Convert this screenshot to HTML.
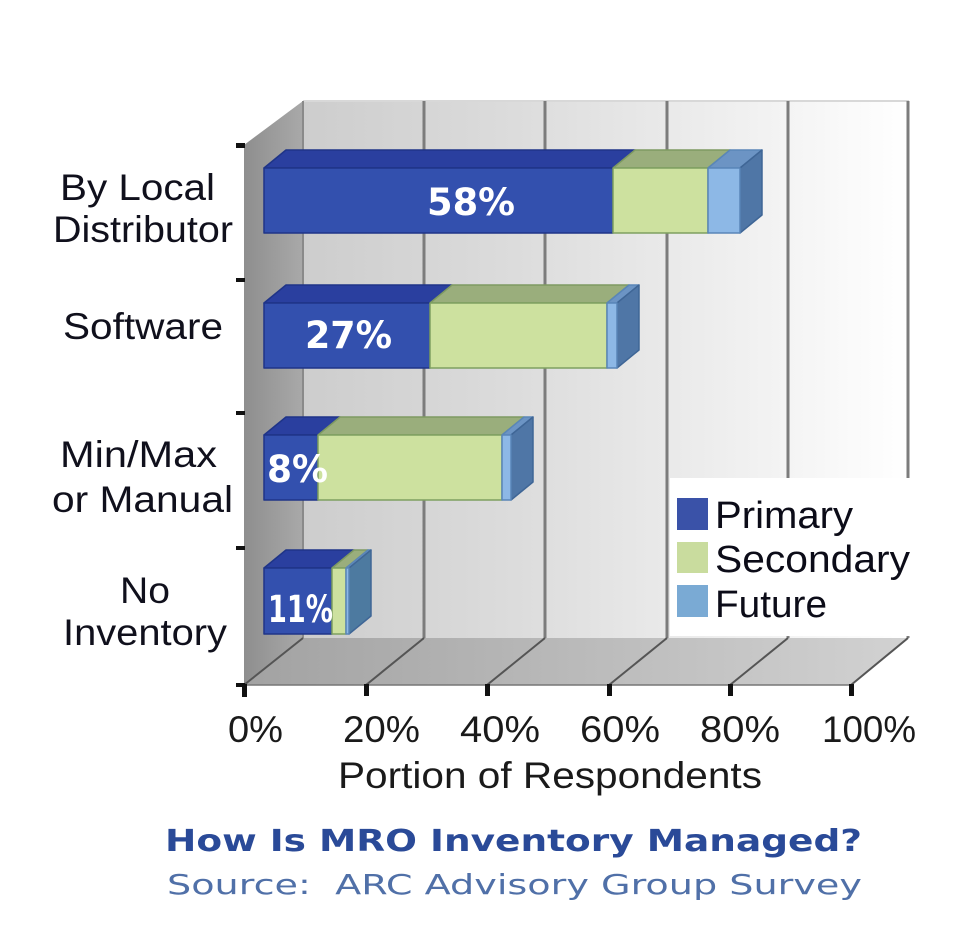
<!DOCTYPE html>
<html>
<head>
<meta charset="utf-8">
<style>
  html,body{margin:0;padding:0;background:#fff;}
  svg{display:block;}
  .cat{font-family:"Liberation Sans",Arial,sans-serif;font-size:37px;fill:#10101c;}
  .tick{font-family:"Liberation Sans",Arial,sans-serif;font-size:37px;fill:#1a1a1a;}
  .bl{font-family:"DejaVu Sans","Liberation Sans",sans-serif;font-weight:bold;font-size:37px;fill:#fff;}
  .lg{font-family:"Liberation Sans",Arial,sans-serif;font-size:38px;fill:#0c0c18;}
</style>
</head>
<body>
<svg width="980" height="937" viewBox="0 0 980 937" xmlns="http://www.w3.org/2000/svg">
  <defs>
    <linearGradient id="wall" x1="303" y1="0" x2="910" y2="0" gradientUnits="userSpaceOnUse">
      <stop offset="0" stop-color="#cdcdcd"/>
      <stop offset="0.35" stop-color="#dcdcdc"/>
      <stop offset="0.65" stop-color="#ececec"/>
      <stop offset="1" stop-color="#ffffff"/>
    </linearGradient>
    <linearGradient id="side" x1="244" y1="0" x2="303" y2="0" gradientUnits="userSpaceOnUse">
      <stop offset="0" stop-color="#8e8e8e"/>
      <stop offset="1" stop-color="#a9a9a9"/>
    </linearGradient>
    <linearGradient id="floor" x1="244" y1="0" x2="910" y2="0" gradientUnits="userSpaceOnUse">
      <stop offset="0" stop-color="#a2a2a2"/>
      <stop offset="1" stop-color="#d2d2d2"/>
    </linearGradient>
  </defs>

  <rect x="0" y="0" width="980" height="937" fill="#fff"/>

  <!-- back wall -->
  <polygon points="303,101 909,101 909,638 303,638" fill="url(#wall)"/>
  <line x1="303" y1="101" x2="909" y2="101" stroke="#d8d8d8" stroke-width="2"/>
  <!-- side wall -->
  <polygon points="244,145 303,101 303,638 244,685" fill="url(#side)"/>
  <!-- floor -->
  <polygon points="244,685 851,685 909,638 303,638" fill="url(#floor)"/>

  <!-- back gridlines -->
  <g stroke="#7c7c7c" stroke-width="3">
    <line x1="303" y1="101" x2="303" y2="638" stroke="#8a8a8a" stroke-width="2"/>
    <line x1="424" y1="101" x2="424" y2="638"/>
    <line x1="545" y1="101" x2="545" y2="638"/>
    <line x1="667" y1="101" x2="667" y2="638"/>
    <line x1="788" y1="101" x2="788" y2="638"/>
    <line x1="908" y1="101" x2="908" y2="638"/>
  </g>

  <!-- floor lines -->
  <g stroke="#555" stroke-width="2">
    <line x1="244" y1="685" x2="303" y2="638"/>
    <line x1="366" y1="685" x2="424" y2="638"/>
    <line x1="487" y1="685" x2="545" y2="638"/>
    <line x1="609" y1="685" x2="667" y2="638"/>
    <line x1="730" y1="685" x2="788" y2="638"/>
    <line x1="851" y1="685" x2="908" y2="638"/>
  </g>
  <line x1="244" y1="685" x2="851" y2="685" stroke="#777" stroke-width="1.5"/>

  <!-- legend box -->
  <rect x="670" y="478" width="246" height="158" fill="#ffffff"/>
  <rect x="677" y="498" width="31" height="32" fill="#3a52a8"/>
  <rect x="677" y="542" width="31" height="31" fill="#c9dc9e"/>
  <rect x="677" y="585" width="31" height="32" fill="#7aaad4"/>
  <text class="lg" x="715" y="528" textLength="138" lengthAdjust="spacingAndGlyphs">Primary</text>
  <text class="lg" x="715" y="572" textLength="195" lengthAdjust="spacingAndGlyphs">Secondary</text>
  <text class="lg" x="715" y="617" textLength="112" lengthAdjust="spacingAndGlyphs">Future</text>

  <!-- Bar 1: By Local Distributor -->
  <g stroke-width="1.5" stroke-linejoin="round">
    <polygon points="264,168 286,150 635,150 613,168" fill="#2a3f9f" stroke="#1f3488"/>
    <polygon points="613,168 635,150 730,150 708,168" fill="#9aae7c" stroke="#7e9a62"/>
    <polygon points="708,168 730,150 762,150 740,168" fill="#6c94c4" stroke="#5a86b8"/>
    <polygon points="740,168 762,150 762,215 740,233" fill="#4f76a6" stroke="#3f6696"/>
    <rect x="264" y="168" width="349" height="65" fill="#3350ae" stroke="#1f3488"/>
    <rect x="613" y="168" width="95" height="65" fill="#cde19f" stroke="#7ea060"/>
    <rect x="708" y="168" width="32" height="65" fill="#8db8e6" stroke="#5a86b8"/>
  </g>
  <text class="bl" x="427" y="215" textLength="88" lengthAdjust="spacingAndGlyphs">58%</text>

  <!-- Bar 2: Software -->
  <g stroke-width="1.5" stroke-linejoin="round">
    <polygon points="264,303 286,285 452,285 430,303" fill="#2a3f9f" stroke="#1f3488"/>
    <polygon points="430,303 452,285 629,285 607,303" fill="#9aae7c" stroke="#7e9a62"/>
    <polygon points="607,303 629,285 639,285 617,303" fill="#6c94c4" stroke="#5a86b8"/>
    <polygon points="617,303 639,285 639,350 617,368" fill="#4f76a6" stroke="#3f6696"/>
    <rect x="264" y="303" width="166" height="65" fill="#3350ae" stroke="#1f3488"/>
    <rect x="430" y="303" width="177" height="65" fill="#cde19f" stroke="#7ea060"/>
    <rect x="607" y="303" width="10" height="65" fill="#8db8e6" stroke="#5a86b8"/>
  </g>
  <text class="bl" x="305" y="348" textLength="87" lengthAdjust="spacingAndGlyphs">27%</text>

  <!-- Bar 3: Min/Max -->
  <g stroke-width="1.5" stroke-linejoin="round">
    <polygon points="264,435 286,417 340,417 318,435" fill="#2a3f9f" stroke="#1f3488"/>
    <polygon points="318,435 340,417 524,417 502,435" fill="#9aae7c" stroke="#7e9a62"/>
    <polygon points="502,435 524,417 533,417 511,435" fill="#6c94c4" stroke="#5a86b8"/>
    <polygon points="511,435 533,417 533,482 511,500" fill="#4f76a6" stroke="#3f6696"/>
    <rect x="264" y="435" width="54" height="65" fill="#3350ae" stroke="#1f3488"/>
    <rect x="318" y="435" width="184" height="65" fill="#cde19f" stroke="#7ea060"/>
    <rect x="502" y="435" width="9" height="65" fill="#8db8e6" stroke="#5a86b8"/>
  </g>
  <text class="bl" x="267" y="482" textLength="61" lengthAdjust="spacingAndGlyphs">8%</text>

  <!-- Bar 4: No Inventory -->
  <g stroke-width="1.5" stroke-linejoin="round">
    <polygon points="264,568 286,550 354,550 332,568" fill="#2a3f9f" stroke="#1f3488"/>
    <polygon points="332,568 354,550 368,550 346,568" fill="#9aae7c" stroke="#7e9a62"/>
    <polygon points="346,568 368,550 371,550 349,568" fill="#6c94c4" stroke="#5a86b8"/>
    <polygon points="349,568 371,550 371,616 349,634" fill="#4d7aa0" stroke="#3f6696"/>
    <rect x="264" y="568" width="68" height="66" fill="#3350ae" stroke="#1f3488"/>
    <rect x="332" y="568" width="14" height="66" fill="#cde19f" stroke="#7ea060"/>
    <rect x="346" y="568" width="3" height="66" fill="#8db8e6" stroke="#5a86b8"/>
  </g>
  <text class="bl" x="268" y="622" textLength="65" lengthAdjust="spacingAndGlyphs">11%</text>

  <!-- left axis ticks -->
  <g fill="#111">
    <rect x="236" y="143" width="9" height="5"/>
    <rect x="236" y="278" width="9" height="4"/>
    <rect x="236" y="411" width="9" height="4"/>
    <rect x="236" y="546" width="9" height="4"/>
    <rect x="236" y="683" width="9" height="4"/>
  </g>
  <!-- bottom ticks -->
  <g fill="#111">
    <rect x="242" y="684" width="5" height="13"/>
    <rect x="364" y="684" width="5" height="12"/>
    <rect x="485" y="684" width="5" height="12"/>
    <rect x="607" y="684" width="5" height="12"/>
    <rect x="728" y="684" width="5" height="12"/>
    <rect x="849" y="684" width="5" height="12"/>
  </g>

  <!-- category labels -->
  <text class="cat" x="60" y="200" textLength="155" lengthAdjust="spacingAndGlyphs">By Local</text>
  <text class="cat" x="53" y="242" textLength="180" lengthAdjust="spacingAndGlyphs">Distributor</text>
  <text class="cat" x="63" y="339" textLength="160" lengthAdjust="spacingAndGlyphs">Software</text>
  <text class="cat" x="60" y="467" textLength="157" lengthAdjust="spacingAndGlyphs">Min/Max</text>
  <text class="cat" x="52" y="512" textLength="181" lengthAdjust="spacingAndGlyphs">or Manual</text>
  <text class="cat" x="120" y="603" textLength="50" lengthAdjust="spacingAndGlyphs">No</text>
  <text class="cat" x="63" y="645" textLength="164" lengthAdjust="spacingAndGlyphs">Inventory</text>

  <!-- tick labels -->
  <text class="tick" x="228" y="742" textLength="55" lengthAdjust="spacingAndGlyphs">0%</text>
  <text class="tick" x="343" y="742" textLength="77" lengthAdjust="spacingAndGlyphs">20%</text>
  <text class="tick" x="460" y="742" textLength="80" lengthAdjust="spacingAndGlyphs">40%</text>
  <text class="tick" x="580" y="742" textLength="80" lengthAdjust="spacingAndGlyphs">60%</text>
  <text class="tick" x="700" y="742" textLength="80" lengthAdjust="spacingAndGlyphs">80%</text>
  <text class="tick" x="822" y="742" textLength="94" lengthAdjust="spacingAndGlyphs">100%</text>

  <text class="tick" x="338" y="788" font-size="34" textLength="424" lengthAdjust="spacingAndGlyphs">Portion of Respondents</text>

  <!-- title -->
  <text x="165" y="851" font-family="'DejaVu Sans','Liberation Sans',sans-serif" font-weight="bold" font-size="30" fill="#2a4a98" textLength="697" lengthAdjust="spacingAndGlyphs">How Is MRO Inventory Managed?</text>
  <text x="167" y="894" font-family="'DejaVu Sans','Liberation Sans',sans-serif" font-size="28" fill="#5070a8" textLength="695" lengthAdjust="spacingAndGlyphs" xml:space="preserve">Source:  ARC Advisory Group Survey</text>
</svg>
</body>
</html>
